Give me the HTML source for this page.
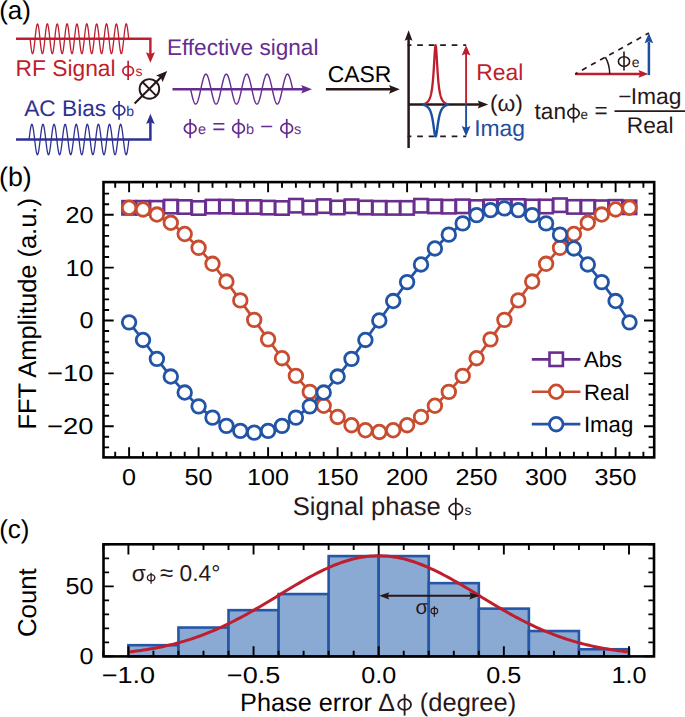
<!DOCTYPE html>
<html><head><meta charset="utf-8"><style>
html,body{margin:0;padding:0;background:#fff;}
svg{display:block;font-family:"Liberation Sans",sans-serif;text-rendering:geometricPrecision;}
</style></head><body>
<svg width="685" height="717" viewBox="0 0 685 717">
<text x="-0.8" y="18.6" font-size="26" fill="#000" >(a)</text>
<text x="-1" y="185.6" font-size="26.8" fill="#000" >(b)</text>
<text x="-0.8" y="537.9" font-size="26" fill="#000" >(c)</text>
<path d="M16,38.8 H150.4 V54" fill="none" stroke="#BE1E2D" stroke-width="2.4"/>
<polygon points="150.4,62.7 145.9,52.2 150.4,53.98 154.9,52.2" fill="#BE1E2D"/>
<polyline points="30.10,38.80 30.35,41.16 30.60,43.46 30.85,45.64 31.10,47.65 31.35,49.44 31.60,50.96 31.85,52.17 32.10,53.04 32.35,53.56 32.60,53.70 32.85,53.46 33.10,52.86 33.35,51.90 33.59,50.61 33.84,49.02 34.09,47.17 34.34,45.11 34.59,42.89 34.84,40.57 35.09,38.21 35.34,35.86 35.59,33.58 35.84,31.44 36.09,29.48 36.34,27.75 36.59,26.31 36.84,25.18 37.09,24.40 37.34,23.97 37.59,23.93 37.84,24.25 38.09,24.95 38.34,26.00 38.59,27.36 38.84,29.02 39.09,30.93 39.34,33.03 39.59,35.28 39.84,37.62 40.08,39.98 40.33,42.32 40.58,44.57 40.83,46.67 41.08,48.58 41.33,50.24 41.58,51.60 41.83,52.65 42.08,53.35 42.33,53.67 42.58,53.63 42.83,53.20 43.08,52.42 43.33,51.29 43.58,49.85 43.83,48.12 44.08,46.16 44.33,44.02 44.58,41.74 44.83,39.39 45.08,37.03 45.33,34.71 45.58,32.49 45.83,30.43 46.08,28.58 46.33,26.99 46.57,25.70 46.82,24.74 47.07,24.14 47.32,23.90 47.57,24.04 47.82,24.56 48.07,25.43 48.32,26.64 48.57,28.16 48.82,29.95 49.07,31.96 49.32,34.14 49.57,36.44 49.82,38.80 50.07,41.16 50.32,43.46 50.57,45.64 50.82,47.65 51.07,49.44 51.32,50.96 51.57,52.17 51.82,53.04 52.07,53.56 52.32,53.70 52.57,53.46 52.82,52.86 53.07,51.90 53.31,50.61 53.56,49.02 53.81,47.17 54.06,45.11 54.31,42.89 54.56,40.57 54.81,38.21 55.06,35.86 55.31,33.58 55.56,31.44 55.81,29.48 56.06,27.75 56.31,26.31 56.56,25.18 56.81,24.40 57.06,23.97 57.31,23.93 57.56,24.25 57.81,24.95 58.06,26.00 58.31,27.36 58.56,29.02 58.81,30.93 59.06,33.03 59.31,35.28 59.56,37.62 59.80,39.98 60.05,42.32 60.30,44.57 60.55,46.67 60.80,48.58 61.05,50.24 61.30,51.60 61.55,52.65 61.80,53.35 62.05,53.67 62.30,53.63 62.55,53.20 62.80,52.42 63.05,51.29 63.30,49.85 63.55,48.12 63.80,46.16 64.05,44.02 64.30,41.74 64.55,39.39 64.80,37.03 65.05,34.71 65.30,32.49 65.55,30.43 65.80,28.58 66.05,26.99 66.29,25.70 66.54,24.74 66.79,24.14 67.04,23.90 67.29,24.04 67.54,24.56 67.79,25.43 68.04,26.64 68.29,28.16 68.54,29.95 68.79,31.96 69.04,34.14 69.29,36.44 69.54,38.80 69.79,41.16 70.04,43.46 70.29,45.64 70.54,47.65 70.79,49.44 71.04,50.96 71.29,52.17 71.54,53.04 71.79,53.56 72.04,53.70 72.29,53.46 72.54,52.86 72.79,51.90 73.03,50.61 73.28,49.02 73.53,47.17 73.78,45.11 74.03,42.89 74.28,40.57 74.53,38.21 74.78,35.86 75.03,33.58 75.28,31.44 75.53,29.48 75.78,27.75 76.03,26.31 76.28,25.18 76.53,24.40 76.78,23.97 77.03,23.93 77.28,24.25 77.53,24.95 77.78,26.00 78.03,27.36 78.28,29.02 78.53,30.93 78.78,33.03 79.03,35.28 79.28,37.62 79.52,39.98 79.77,42.32 80.02,44.57 80.27,46.67 80.52,48.58 80.77,50.24 81.02,51.60 81.27,52.65 81.52,53.35 81.77,53.67 82.02,53.63 82.27,53.20 82.52,52.42 82.77,51.29 83.02,49.85 83.27,48.12 83.52,46.16 83.77,44.02 84.02,41.74 84.27,39.39 84.52,37.03 84.77,34.71 85.02,32.49 85.27,30.43 85.52,28.58 85.77,26.99 86.01,25.70 86.26,24.74 86.51,24.14 86.76,23.90 87.01,24.04 87.26,24.56 87.51,25.43 87.76,26.64 88.01,28.16 88.26,29.95 88.51,31.96 88.76,34.14 89.01,36.44 89.26,38.80 89.51,41.16 89.76,43.46 90.01,45.64 90.26,47.65 90.51,49.44 90.76,50.96 91.01,52.17 91.26,53.04 91.51,53.56 91.76,53.70 92.01,53.46 92.26,52.86 92.51,51.90 92.75,50.61 93.00,49.02 93.25,47.17 93.50,45.11 93.75,42.89 94.00,40.57 94.25,38.21 94.50,35.86 94.75,33.58 95.00,31.44 95.25,29.48 95.50,27.75 95.75,26.31 96.00,25.18 96.25,24.40 96.50,23.97 96.75,23.93 97.00,24.25 97.25,24.95 97.50,26.00 97.75,27.36 98.00,29.02 98.25,30.93 98.50,33.03 98.75,35.28 99.00,37.62 99.24,39.98 99.49,42.32 99.74,44.57 99.99,46.67 100.24,48.58 100.49,50.24 100.74,51.60 100.99,52.65 101.24,53.35 101.49,53.67 101.74,53.63 101.99,53.20 102.24,52.42 102.49,51.29 102.74,49.85 102.99,48.12 103.24,46.16 103.49,44.02 103.74,41.74 103.99,39.39 104.24,37.03 104.49,34.71 104.74,32.49 104.99,30.43 105.24,28.58 105.49,26.99 105.73,25.70 105.98,24.74 106.23,24.14 106.48,23.90 106.73,24.04 106.98,24.56 107.23,25.43 107.48,26.64 107.73,28.16 107.98,29.95 108.23,31.96 108.48,34.14 108.73,36.44 108.98,38.80 109.23,41.16 109.48,43.46 109.73,45.64 109.98,47.65 110.23,49.44 110.48,50.96 110.73,52.17 110.98,53.04 111.23,53.56 111.48,53.70 111.73,53.46 111.98,52.86 112.23,51.90 112.47,50.61 112.72,49.02 112.97,47.17 113.22,45.11 113.47,42.89 113.72,40.57 113.97,38.21 114.22,35.86 114.47,33.58 114.72,31.44 114.97,29.48 115.22,27.75 115.47,26.31 115.72,25.18 115.97,24.40 116.22,23.97 116.47,23.93 116.72,24.25 116.97,24.95 117.22,26.00 117.47,27.36 117.72,29.02 117.97,30.93 118.22,33.03 118.47,35.28 118.72,37.62 118.96,39.98 119.21,42.32 119.46,44.57 119.71,46.67 119.96,48.58 120.21,50.24 120.46,51.60 120.71,52.65 120.96,53.35 121.21,53.67 121.46,53.63 121.71,53.20 121.96,52.42 122.21,51.29 122.46,49.85 122.71,48.12 122.96,46.16 123.21,44.02 123.46,41.74 123.71,39.39 123.96,37.03 124.21,34.71 124.46,32.49 124.71,30.43 124.96,28.58 125.21,26.99 125.45,25.70 125.70,24.74 125.95,24.14 126.20,23.90 126.45,24.04 126.70,24.56 126.95,25.43 127.20,26.64 127.45,28.16 127.70,29.95 127.95,31.96 128.20,34.14 128.45,36.44 128.70,38.80" fill="none" stroke="#BE1E2D" stroke-width="1.3"/>
<text x="15.5" y="76" font-size="22.8" fill="#BE1E2D" >RF Signal</text>
<ellipse cx="128.15" cy="70.91" rx="5.30" ry="4.44" fill="none" stroke="#BE1E2D" stroke-width="1.70"/>
<line x1="128.15" y1="60.80" x2="128.15" y2="79.90" stroke="#BE1E2D" stroke-width="1.70"/>
<text x="135.6" y="76.2" font-size="14" fill="#BE1E2D" >s</text>
<path d="M16,139.5 H150.4 V122" fill="none" stroke="#2E3192" stroke-width="2.5"/>
<polygon points="150.4,113.7 154.7,123.9 150.4,122.17 146.1,123.9" fill="#2E3192"/>
<polyline points="29.10,139.50 29.35,137.36 29.60,135.26 29.85,133.25 30.10,131.36 30.35,129.63 30.60,128.10 30.85,126.80 31.10,125.75 31.35,124.97 31.60,124.49 31.84,124.30 32.09,124.42 32.34,124.84 32.59,125.55 32.84,126.54 33.09,127.79 33.34,129.27 33.59,130.95 33.84,132.81 34.09,134.80 34.34,136.88 34.59,139.02 34.84,141.16 35.09,143.28 35.34,145.31 35.59,147.23 35.84,149.00 36.09,150.58 36.34,151.93 36.59,153.04 36.83,153.88 37.08,154.43 37.33,154.68 37.58,154.63 37.83,154.28 38.08,153.64 38.33,152.71 38.58,151.52 38.83,150.08 39.08,148.44 39.33,146.62 39.58,144.66 39.83,142.59 40.08,140.46 40.33,138.32 40.58,136.19 40.83,134.14 41.08,132.19 41.33,130.38 41.58,128.76 41.82,127.35 42.07,126.19 42.32,125.29 42.57,124.67 42.82,124.35 43.07,124.33 43.32,124.61 43.57,125.19 43.82,126.06 44.07,127.20 44.32,128.58 44.57,130.17 44.82,131.96 45.07,133.89 45.32,135.94 45.57,138.06 45.82,140.20 46.07,142.33 46.32,144.41 46.57,146.39 46.81,148.23 47.06,149.89 47.31,151.35 47.56,152.58 47.81,153.54 48.06,154.22 48.31,154.61 48.56,154.69 48.81,154.48 49.06,153.96 49.31,153.16 49.56,152.08 49.81,150.75 50.06,149.20 50.31,147.46 50.56,145.55 50.81,143.53 51.06,141.42 51.31,139.28 51.56,137.14 51.80,135.05 52.05,133.05 52.30,131.17 52.55,129.46 52.80,127.96 53.05,126.68 53.30,125.66 53.55,124.91 53.80,124.45 54.05,124.30 54.30,124.45 54.55,124.90 54.80,125.64 55.05,126.65 55.30,127.93 55.55,129.43 55.80,131.14 56.05,133.01 56.30,135.01 56.55,137.10 56.79,139.24 57.04,141.38 57.29,143.49 57.54,145.51 57.79,147.42 58.04,149.17 58.29,150.73 58.54,152.06 58.79,153.14 59.04,153.95 59.29,154.47 59.54,154.69 59.79,154.61 60.04,154.23 60.29,153.55 60.54,152.60 60.79,151.38 61.04,149.93 61.29,148.26 61.54,146.43 61.78,144.45 62.03,142.38 62.28,140.24 62.53,138.10 62.78,135.98 63.03,133.93 63.28,131.99 63.53,130.21 63.78,128.61 64.03,127.22 64.28,126.08 64.53,125.21 64.78,124.62 65.03,124.33 65.28,124.34 65.53,124.66 65.78,125.27 66.03,126.16 66.28,127.33 66.53,128.73 66.77,130.35 67.02,132.15 67.27,134.10 67.52,136.15 67.77,138.27 68.02,140.42 68.27,142.55 68.52,144.62 68.77,146.58 69.02,148.41 69.27,150.05 69.52,151.49 69.77,152.69 70.02,153.62 70.27,154.27 70.52,154.63 70.77,154.68 71.02,154.44 71.27,153.89 71.52,153.06 71.76,151.96 72.01,150.61 72.26,149.03 72.51,147.27 72.76,145.35 73.01,143.32 73.26,141.21 73.51,139.06 73.76,136.92 74.01,134.84 74.26,132.85 74.51,130.99 74.76,129.30 75.01,127.81 75.26,126.56 75.51,125.57 75.76,124.85 76.01,124.42 76.26,124.30 76.51,124.48 76.75,124.96 77.00,125.73 77.25,126.77 77.50,128.07 77.75,129.60 78.00,131.32 78.25,133.21 78.50,135.22 78.75,137.32 79.00,139.46 79.25,141.60 79.50,143.70 79.75,145.72 80.00,147.61 80.25,149.34 80.50,150.87 80.75,152.18 81.00,153.23 81.25,154.01 81.50,154.51 81.74,154.70 81.99,154.59 82.24,154.17 82.49,153.47 82.74,152.48 82.99,151.24 83.24,149.76 83.49,148.08 83.74,146.23 83.99,144.24 84.24,142.16 84.49,140.03 84.74,137.88 84.99,135.77 85.24,133.73 85.49,131.80 85.74,130.03 85.99,128.45 86.24,127.09 86.49,125.98 86.73,125.14 86.98,124.58 87.23,124.32 87.48,124.36 87.73,124.71 87.98,125.35 88.23,126.27 88.48,127.46 88.73,128.89 88.98,130.52 89.23,132.34 89.48,134.30 89.73,136.37 89.98,138.49 90.23,140.64 90.48,142.76 90.73,144.82 90.98,146.78 91.23,148.58 91.48,150.21 91.72,151.62 91.97,152.79 92.22,153.70 92.47,154.32 92.72,154.65 92.97,154.67 93.22,154.40 93.47,153.82 93.72,152.96 93.97,151.83 94.22,150.45 94.47,148.86 94.72,147.08 94.97,145.15 95.22,143.10 95.47,140.99 95.72,138.84 95.97,136.71 96.22,134.63 96.47,132.65 96.71,130.81 96.96,129.14 97.21,127.67 97.46,126.45 97.71,125.48 97.96,124.79 98.21,124.40 98.46,124.31 98.71,124.52 98.96,125.03 99.21,125.82 99.46,126.89 99.71,128.22 99.96,129.76 100.21,131.51 100.46,133.41 100.71,135.43 100.96,137.53 101.21,139.68 101.46,141.82 101.70,143.91 101.95,145.91 102.20,147.79 102.45,149.50 102.70,151.02 102.95,152.30 103.20,153.33 103.45,154.08 103.70,154.54 103.95,154.70 104.20,154.56 104.45,154.11 104.70,153.38 104.95,152.37 105.20,151.10 105.45,149.60 105.70,147.90 105.95,146.03 106.20,144.03 106.45,141.94 106.69,139.81 106.94,137.66 107.19,135.55 107.44,133.53 107.69,131.62 107.94,129.86 108.19,128.30 108.44,126.97 108.69,125.88 108.94,125.07 109.19,124.54 109.44,124.31 109.69,124.38 109.94,124.76 110.19,125.43 110.44,126.38 110.69,127.59 110.94,129.04 111.19,130.70 111.44,132.54 111.68,134.51 111.93,136.58 112.18,138.71 112.43,140.86 112.68,142.98 112.93,145.03 113.18,146.97 113.43,148.76 113.68,150.36 113.93,151.75 114.18,152.90 114.43,153.78 114.68,154.37 114.93,154.67 115.18,154.66 115.43,154.35 115.68,153.74 115.93,152.86 116.18,151.70 116.43,150.30 116.67,148.69 116.92,146.89 117.17,144.94 117.42,142.89 117.67,140.77 117.92,138.62 118.17,136.49 118.42,134.42 118.67,132.46 118.92,130.63 119.17,128.98 119.42,127.54 119.67,126.34 119.92,125.40 120.17,124.74 120.42,124.38 120.67,124.31 120.92,124.55 121.17,125.09 121.42,125.92 121.66,127.02 121.91,128.37 122.16,129.93 122.41,131.69 122.66,133.61 122.91,135.64 123.16,137.75 123.41,139.90 123.66,142.03 123.91,144.12 124.16,146.11 124.41,147.98 124.66,149.67 124.91,151.16 125.16,152.42 125.41,153.42 125.66,154.14 125.91,154.57 126.16,154.70 126.41,154.53 126.65,154.05 126.90,153.29 127.15,152.25 127.40,150.96 127.65,149.44 127.90,147.72 128.15,145.83 128.40,143.82 128.65,141.73 128.90,139.59" fill="none" stroke="#2E3192" stroke-width="1.3"/>
<text x="24.2" y="115.8" font-size="22.7" fill="#2E3192" >AC Bias</text>
<ellipse cx="119.05" cy="110.28" rx="5.80" ry="4.87" fill="none" stroke="#2E3192" stroke-width="1.70"/>
<line x1="119.05" y1="101.10" x2="119.05" y2="119.80" stroke="#2E3192" stroke-width="1.70"/>
<text x="126.2" y="116" font-size="14" fill="#2E3192" >b</text>
<circle cx="149.4" cy="88.9" r="9.8" fill="none" stroke="#281819" stroke-width="1.9"/>
<line x1="142.5" y1="82" x2="156.3" y2="95.8" stroke="#281819" stroke-width="1.9" />
<line x1="134.6" y1="103.6" x2="162" y2="76.2" stroke="#281819" stroke-width="2.1" />
<polygon points="167.2,71 162.67,82.03 160.74,77.46 156.17,75.53" fill="#281819"/>
<text x="166.9" y="54.8" font-size="22.6" fill="#662D91" >Effective signal</text>
<line x1="172.5" y1="89.2" x2="303" y2="89.2" stroke="#662D91" stroke-width="2.5" />
<polygon points="312,89.25 301.2,93.55 303.04,89.25 301.2,84.95" fill="#662D91"/>
<polyline points="190.60,89.10 190.85,90.25 191.10,91.40 191.35,92.53 191.60,93.64 191.85,94.73 192.10,95.78 192.35,96.79 192.60,97.76 192.85,98.67 193.10,99.53 193.35,100.33 193.60,101.06 193.85,101.72 194.09,102.30 194.34,102.81 194.59,103.24 194.84,103.58 195.09,103.84 195.34,104.01 195.59,104.09 195.84,104.09 196.09,103.99 196.34,103.81 196.59,103.54 196.84,103.18 197.09,102.75 197.34,102.23 197.59,101.63 197.84,100.96 198.09,100.22 198.34,99.41 198.59,98.55 198.84,97.62 199.09,96.65 199.34,95.63 199.59,94.58 199.84,93.49 200.09,92.37 200.34,91.24 200.59,90.09 200.83,88.94 201.08,87.79 201.33,86.64 201.58,85.51 201.83,84.41 202.08,83.33 202.33,82.28 202.58,81.27 202.83,80.31 203.08,79.41 203.33,78.55 203.58,77.77 203.83,77.05 204.08,76.40 204.33,75.82 204.58,75.32 204.83,74.91 205.08,74.58 205.33,74.33 205.58,74.17 205.83,74.10 206.08,74.12 206.33,74.23 206.58,74.42 206.83,74.71 207.08,75.07 207.33,75.52 207.58,76.05 207.82,76.66 208.07,77.34 208.32,78.09 208.57,78.90 208.82,79.78 209.07,80.71 209.32,81.69 209.57,82.71 209.82,83.78 210.07,84.87 210.32,85.99 210.57,87.12 210.82,88.27 211.07,89.42 211.32,90.57 211.57,91.72 211.82,92.84 212.07,93.95 212.32,95.02 212.57,96.06 212.82,97.06 213.07,98.02 213.32,98.92 213.57,99.76 213.82,100.54 214.07,101.25 214.32,101.89 214.56,102.45 214.81,102.94 215.06,103.34 215.31,103.66 215.56,103.90 215.81,104.04 216.06,104.10 216.31,104.07 216.56,103.95 216.81,103.74 217.06,103.45 217.31,103.07 217.56,102.61 217.81,102.07 218.06,101.45 218.31,100.76 218.56,100.00 218.81,99.18 219.06,98.29 219.31,97.36 219.56,96.37 219.81,95.34 220.06,94.27 220.31,93.18 220.56,92.06 220.81,90.92 221.06,89.77 221.30,88.62 221.55,87.47 221.80,86.32 222.05,85.20 222.30,84.10 222.55,83.03 222.80,81.99 223.05,81.00 223.30,80.05 223.55,79.16 223.80,78.33 224.05,77.56 224.30,76.86 224.55,76.23 224.80,75.67 225.05,75.20 225.30,74.81 225.55,74.50 225.80,74.28 226.05,74.15 226.30,74.10 226.55,74.14 226.80,74.28 227.05,74.49 227.30,74.80 227.55,75.19 227.80,75.66 228.04,76.21 228.29,76.84 228.54,77.54 228.79,78.31 229.04,79.14 229.29,80.04 229.54,80.98 229.79,81.97 230.04,83.01 230.29,84.08 230.54,85.18 230.79,86.30 231.04,87.44 231.29,88.59 231.54,89.75 231.79,90.90 232.04,92.03 232.29,93.15 232.54,94.25 232.79,95.32 233.04,96.35 233.29,97.34 233.54,98.28 233.79,99.16 234.04,99.98 234.29,100.75 234.54,101.44 234.79,102.06 235.03,102.60 235.28,103.06 235.53,103.44 235.78,103.74 236.03,103.95 236.28,104.07 236.53,104.10 236.78,104.04 237.03,103.90 237.28,103.67 237.53,103.35 237.78,102.95 238.03,102.46 238.28,101.90 238.53,101.26 238.78,100.55 239.03,99.78 239.28,98.93 239.53,98.04 239.78,97.08 240.03,96.08 240.28,95.04 240.53,93.97 240.78,92.86 241.03,91.74 241.28,90.60 241.53,89.45 241.77,88.29 242.02,87.14 242.27,86.01 242.52,84.89 242.77,83.80 243.02,82.73 243.27,81.71 243.52,80.73 243.77,79.80 244.02,78.92 244.27,78.11 244.52,77.35 244.77,76.67 245.02,76.06 245.27,75.53 245.52,75.08 245.77,74.71 246.02,74.43 246.27,74.23 246.52,74.12 246.77,74.10 247.02,74.17 247.27,74.33 247.52,74.57 247.77,74.90 248.02,75.31 248.27,75.81 248.51,76.38 248.76,77.03 249.01,77.75 249.26,78.54 249.51,79.39 249.76,80.29 250.01,81.25 250.26,82.26 250.51,83.30 250.76,84.38 251.01,85.49 251.26,86.62 251.51,87.76 251.76,88.92 252.01,90.07 252.26,91.22 252.51,92.35 252.76,93.47 253.01,94.55 253.26,95.61 253.51,96.63 253.76,97.60 254.01,98.53 254.26,99.40 254.51,100.20 254.76,100.95 255.01,101.62 255.26,102.22 255.50,102.74 255.75,103.18 256.00,103.53 256.25,103.80 256.50,103.99 256.75,104.08 257.00,104.09 257.25,104.01 257.50,103.84 257.75,103.59 258.00,103.25 258.25,102.82 258.50,102.31 258.75,101.73 259.00,101.07 259.25,100.34 259.50,99.55 259.75,98.69 260.00,97.77 260.25,96.81 260.50,95.80 260.75,94.75 261.00,93.66 261.25,92.55 261.50,91.42 261.75,90.27 262.00,89.12 262.24,87.97 262.49,86.82 262.74,85.69 262.99,84.58 263.24,83.50 263.49,82.44 263.74,81.43 263.99,80.46 264.24,79.55 264.49,78.69 264.74,77.89 264.99,77.16 265.24,76.49 265.49,75.91 265.74,75.40 265.99,74.97 266.24,74.62 266.49,74.37 266.74,74.19 266.99,74.11 267.24,74.11 267.49,74.21 267.74,74.39 267.99,74.66 268.24,75.01 268.49,75.45 268.74,75.96 268.98,76.56 269.23,77.23 269.48,77.97 269.73,78.77 269.98,79.64 270.23,80.56 270.48,81.53 270.73,82.55 270.98,83.60 271.23,84.69 271.48,85.81 271.73,86.94 271.98,88.09 272.23,89.24 272.48,90.39 272.73,91.53 272.98,92.66 273.23,93.77 273.48,94.85 273.73,95.90 273.98,96.91 274.23,97.87 274.48,98.78 274.73,99.63 274.98,100.42 275.23,101.14 275.48,101.79 275.72,102.37 275.97,102.87 276.22,103.28 276.47,103.62 276.72,103.86 276.97,104.02 277.22,104.10 277.47,104.08 277.72,103.97 277.97,103.78 278.22,103.50 278.47,103.14 278.72,102.69 278.97,102.16 279.22,101.55 279.47,100.87 279.72,100.13 279.97,99.31 280.22,98.44 280.47,97.51 280.72,96.53 280.97,95.51 281.22,94.45 281.47,93.35 281.72,92.24 281.97,91.10 282.22,89.95 282.47,88.80 282.71,87.65 282.96,86.51 283.21,85.38 283.46,84.27 283.71,83.20 283.96,82.16 284.21,81.15 284.46,80.20 284.71,79.30 284.96,78.46 285.21,77.68 285.46,76.96 285.71,76.32 285.96,75.76 286.21,75.27 286.46,74.86 286.71,74.54 286.96,74.31 287.21,74.16 287.46,74.10 287.71,74.13 287.96,74.25 288.21,74.45 288.46,74.75 288.71,75.12 288.96,75.58 289.21,76.12 289.45,76.74 289.70,77.43 289.95,78.18 290.20,79.01 290.45,79.89 290.70,80.83 290.95,81.81 291.20,82.84 291.45,83.91 291.70,85.00 291.95,86.12 292.20,87.26 292.45,88.41 292.70,89.56" fill="none" stroke="#662D91" stroke-width="1.4"/>
<ellipse cx="190.20" cy="128.44" rx="5.83" ry="4.89" fill="none" stroke="#662D91" stroke-width="1.75"/>
<line x1="190.20" y1="118.90" x2="190.20" y2="138.10" stroke="#662D91" stroke-width="1.75"/>
<text x="198" y="134.2" font-size="14.5" fill="#662D91" >e</text>
<text x="212.3" y="134" font-size="22.5" fill="#662D91" >=</text>
<ellipse cx="238.55" cy="128.39" rx="5.88" ry="4.93" fill="none" stroke="#662D91" stroke-width="1.75"/>
<line x1="238.55" y1="118.90" x2="238.55" y2="138.10" stroke="#662D91" stroke-width="1.75"/>
<text x="246.1" y="134.2" font-size="14.5" fill="#662D91" >b</text>
<text x="259.9" y="134" font-size="22.5" fill="#662D91" >−</text>
<ellipse cx="286.75" cy="128.39" rx="5.88" ry="4.93" fill="none" stroke="#662D91" stroke-width="1.75"/>
<line x1="286.75" y1="118.90" x2="286.75" y2="138.10" stroke="#662D91" stroke-width="1.75"/>
<text x="293.9" y="134.2" font-size="14.5" fill="#662D91" >s</text>
<text x="327.8" y="81.7" font-size="22.9" fill="#000" >CASR</text>
<line x1="325.9" y1="89.3" x2="392" y2="89.3" stroke="#281819" stroke-width="2.6" />
<polygon points="399.8,89.3 389,93.7 390.84,89.3 389,84.9" fill="#281819"/>
<line x1="408.6" y1="148" x2="408.6" y2="38" stroke="#281819" stroke-width="2.5" />
<polygon points="408.6,30.2 412.5,40.7 408.6,38.91 404.7,40.7" fill="#281819"/>
<line x1="408.6" y1="104.5" x2="480" y2="104.5" stroke="#281819" stroke-width="2.4" />
<polygon points="488.2,104.5 477.7,108.4 479.49,104.5 477.7,100.6" fill="#281819"/>
<line x1="407.6" y1="45.2" x2="466.2" y2="45.2" stroke="#281819" stroke-width="1.8" stroke-dasharray="5.7 5.8" stroke-dashoffset="1.9"/>
<line x1="407.6" y1="136.4" x2="466.2" y2="136.4" stroke="#281819" stroke-width="1.8" stroke-dasharray="5.7 5.8" stroke-dashoffset="1.9"/>
<polyline points="423.10,104.50 423.31,104.43 423.52,104.36 423.73,104.29 423.93,104.21 424.14,104.13 424.35,104.05 424.56,103.96 424.77,103.86 424.98,103.76 425.18,103.66 425.39,103.55 425.60,103.43 425.81,103.30 426.02,103.17 426.23,103.03 426.43,102.88 426.64,102.72 426.85,102.55 427.06,102.37 427.27,102.17 427.48,101.96 427.68,101.74 427.89,101.50 428.10,101.24 428.31,100.97 428.52,100.67 428.73,100.34 428.93,99.99 429.14,99.62 429.35,99.20 429.56,98.76 429.77,98.27 429.98,97.74 430.18,97.15 430.39,96.52 430.60,95.82 430.81,95.04 431.02,94.19 431.23,93.25 431.43,92.21 431.64,91.06 431.85,89.77 432.06,88.35 432.27,86.76 432.48,85.00 432.68,83.04 432.89,80.86 433.10,78.45 433.31,75.79 433.52,72.88 433.73,69.74 433.93,66.37 434.14,62.85 434.35,59.26 434.56,55.72 434.77,52.40 434.98,49.51 435.18,47.24 435.39,45.80 435.60,45.30 435.81,45.80 436.02,47.24 436.23,49.51 436.43,52.40 436.64,55.72 436.85,59.26 437.06,62.85 437.27,66.37 437.48,69.74 437.68,72.88 437.89,75.79 438.10,78.45 438.31,80.86 438.52,83.04 438.73,85.00 438.93,86.76 439.14,88.35 439.35,89.77 439.56,91.06 439.77,92.21 439.98,93.25 440.18,94.19 440.39,95.04 440.60,95.82 440.81,96.52 441.02,97.15 441.23,97.74 441.43,98.27 441.64,98.76 441.85,99.20 442.06,99.62 442.27,99.99 442.48,100.34 442.68,100.67 442.89,100.97 443.10,101.24 443.31,101.50 443.52,101.74 443.73,101.96 443.93,102.17 444.14,102.37 444.35,102.55 444.56,102.72 444.77,102.88 444.98,103.03 445.18,103.17 445.39,103.30 445.60,103.43 445.81,103.55 446.02,103.66 446.23,103.76 446.43,103.86 446.64,103.96 446.85,104.05 447.06,104.13 447.27,104.21 447.48,104.29 447.68,104.36 447.89,104.43 448.10,104.50" fill="none" stroke="#BE1E2D" stroke-width="2.3" stroke-linejoin="round"/>
<polyline points="422.40,104.50 422.62,104.55 422.84,104.61 423.06,104.67 423.28,104.73 423.50,104.80 423.72,104.86 423.94,104.94 424.16,105.01 424.38,105.09 424.60,105.17 424.82,105.26 425.04,105.36 425.26,105.46 425.48,105.56 425.70,105.67 425.92,105.79 426.14,105.92 426.36,106.05 426.58,106.19 426.80,106.35 427.02,106.51 427.24,106.68 427.46,106.86 427.68,107.06 427.90,107.27 428.12,107.50 428.34,107.75 428.56,108.01 428.78,108.29 429.00,108.60 429.22,108.93 429.44,109.28 429.66,109.67 429.88,110.09 430.10,110.54 430.32,111.04 430.54,111.58 430.76,112.16 430.98,112.80 431.20,113.50 431.42,114.26 431.64,115.09 431.86,115.99 432.08,116.97 432.30,118.03 432.52,119.18 432.74,120.43 432.96,121.76 433.18,123.18 433.40,124.67 433.62,126.22 433.84,127.81 434.06,129.40 434.28,130.96 434.50,132.42 434.72,133.74 434.94,134.85 435.16,135.69 435.38,136.22 435.60,136.40 435.82,136.22 436.04,135.69 436.26,134.85 436.48,133.74 436.70,132.42 436.92,130.96 437.14,129.40 437.36,127.81 437.58,126.22 437.80,124.67 438.02,123.18 438.24,121.76 438.46,120.43 438.68,119.18 438.90,118.03 439.12,116.97 439.34,115.99 439.56,115.09 439.78,114.26 440.00,113.50 440.22,112.80 440.44,112.16 440.66,111.58 440.88,111.04 441.10,110.54 441.32,110.09 441.54,109.67 441.76,109.28 441.98,108.93 442.20,108.60 442.42,108.29 442.64,108.01 442.86,107.75 443.08,107.50 443.30,107.27 443.52,107.06 443.74,106.86 443.96,106.68 444.18,106.51 444.40,106.35 444.62,106.19 444.84,106.05 445.06,105.92 445.28,105.79 445.50,105.67 445.72,105.56 445.94,105.46 446.16,105.36 446.38,105.26 446.60,105.17 446.82,105.09 447.04,105.01 447.26,104.94 447.48,104.86 447.70,104.80 447.92,104.73 448.14,104.67 448.36,104.61 448.58,104.55 448.80,104.50" fill="none" stroke="#1D4FA0" stroke-width="2.4" stroke-linejoin="round"/>
<line x1="466.1" y1="104.5" x2="466.1" y2="53" stroke="#BE1E2D" stroke-width="1.9" />
<polygon points="466.1,45.3 470.5,55.6 466.1,53.85 461.7,55.6" fill="#BE1E2D"/>
<line x1="466.1" y1="104.5" x2="466.1" y2="128" stroke="#1D4FA0" stroke-width="1.9" />
<polygon points="466.1,136.2 461.7,125.9 466.1,127.65 470.5,125.9" fill="#1D4FA0"/>
<text x="476.3" y="79.9" font-size="22.9" fill="#BE1E2D" >Real</text>
<text x="474.2" y="136.2" font-size="22.9" fill="#1D4FA0" >Imag</text>
<text x="489.9" y="110.6" font-size="22.8" fill="#281819" >(ω)</text>
<line x1="575.2" y1="73.9" x2="640" y2="73.9" stroke="#BE1E2D" stroke-width="2.5" />
<polygon points="648.4,73.9 638.4,77.8 640.1,73.9 638.4,70" fill="#BE1E2D"/>
<line x1="648.9" y1="75.1" x2="648.9" y2="42" stroke="#1D4FA0" stroke-width="2.5" />
<polygon points="648.9,33 653.2,43.3 648.9,41.55 644.6,43.3" fill="#1D4FA0"/>
<line x1="575.2" y1="73.9" x2="648.9" y2="33" stroke="#281819" stroke-width="1.7" stroke-dasharray="5.3 5.1" stroke-dashoffset="2.7"/>
<path d="M609.7,73.9 A34.5,34.5 0 0 0 605.37,57.16" fill="none" stroke="#281819" stroke-width="1.5"/>
<ellipse cx="624.00" cy="61.50" rx="5.60" ry="4.70" fill="none" stroke="#281819" stroke-width="1.60"/>
<line x1="624.00" y1="51.40" x2="624.00" y2="70.40" stroke="#281819" stroke-width="1.60"/>
<text x="631.8" y="66.8" font-size="14" fill="#281819" >e</text>
<text x="534.6" y="118.8" font-size="22.6" fill="#281819" >tan</text>
<ellipse cx="573.55" cy="113.17" rx="5.70" ry="4.78" fill="none" stroke="#281819" stroke-width="1.70"/>
<line x1="573.55" y1="103.70" x2="573.55" y2="122.60" stroke="#281819" stroke-width="1.70"/>
<text x="580.6" y="118.8" font-size="13.5" fill="#281819" >e</text>
<text x="594.5" y="117.8" font-size="22.5" fill="#281819" >=</text>
<line x1="614.5" y1="111.1" x2="686" y2="111.1" stroke="#281819" stroke-width="1.8" />
<text x="618.2" y="103.6" font-size="22.6" fill="#281819" >−</text>
<text x="630.7" y="103.6" font-size="22.85" fill="#281819" >Imag</text>
<text x="626.8" y="133.2" font-size="22.7" fill="#281819" >Real</text>
<polyline points="129.10,207.80 143.00,207.80 156.90,207.80 170.80,206.60 184.70,207.00 198.60,208.00 212.50,206.60 226.40,206.60 240.30,207.00 254.20,207.00 268.10,207.60 282.00,208.00 295.90,205.70 309.80,207.50 323.70,206.10 337.60,207.50 351.50,206.20 365.40,207.50 379.30,207.80 393.20,207.90 407.10,207.90 421.00,205.70 434.90,206.40 448.80,206.70 462.70,206.30 476.60,207.00 490.50,206.50 504.40,206.00 518.30,206.00 532.20,206.50 546.10,206.50 560.00,205.20 573.90,206.90 587.80,206.90 601.70,207.20 615.60,206.80 629.50,207.30" fill="none" stroke="#6A2F8E" stroke-width="2.7"/>
<rect x="122.40" y="201.10" width="13.4" height="13.4" fill="#fff" stroke="#6A2F8E" stroke-width="2.6"/>
<rect x="136.30" y="201.10" width="13.4" height="13.4" fill="#fff" stroke="#6A2F8E" stroke-width="2.6"/>
<rect x="150.20" y="201.10" width="13.4" height="13.4" fill="#fff" stroke="#6A2F8E" stroke-width="2.6"/>
<rect x="164.10" y="199.90" width="13.4" height="13.4" fill="#fff" stroke="#6A2F8E" stroke-width="2.6"/>
<rect x="178.00" y="200.30" width="13.4" height="13.4" fill="#fff" stroke="#6A2F8E" stroke-width="2.6"/>
<rect x="191.90" y="201.30" width="13.4" height="13.4" fill="#fff" stroke="#6A2F8E" stroke-width="2.6"/>
<rect x="205.80" y="199.90" width="13.4" height="13.4" fill="#fff" stroke="#6A2F8E" stroke-width="2.6"/>
<rect x="219.70" y="199.90" width="13.4" height="13.4" fill="#fff" stroke="#6A2F8E" stroke-width="2.6"/>
<rect x="233.60" y="200.30" width="13.4" height="13.4" fill="#fff" stroke="#6A2F8E" stroke-width="2.6"/>
<rect x="247.50" y="200.30" width="13.4" height="13.4" fill="#fff" stroke="#6A2F8E" stroke-width="2.6"/>
<rect x="261.40" y="200.90" width="13.4" height="13.4" fill="#fff" stroke="#6A2F8E" stroke-width="2.6"/>
<rect x="275.30" y="201.30" width="13.4" height="13.4" fill="#fff" stroke="#6A2F8E" stroke-width="2.6"/>
<rect x="289.20" y="199.00" width="13.4" height="13.4" fill="#fff" stroke="#6A2F8E" stroke-width="2.6"/>
<rect x="303.10" y="200.80" width="13.4" height="13.4" fill="#fff" stroke="#6A2F8E" stroke-width="2.6"/>
<rect x="317.00" y="199.40" width="13.4" height="13.4" fill="#fff" stroke="#6A2F8E" stroke-width="2.6"/>
<rect x="330.90" y="200.80" width="13.4" height="13.4" fill="#fff" stroke="#6A2F8E" stroke-width="2.6"/>
<rect x="344.80" y="199.50" width="13.4" height="13.4" fill="#fff" stroke="#6A2F8E" stroke-width="2.6"/>
<rect x="358.70" y="200.80" width="13.4" height="13.4" fill="#fff" stroke="#6A2F8E" stroke-width="2.6"/>
<rect x="372.60" y="201.10" width="13.4" height="13.4" fill="#fff" stroke="#6A2F8E" stroke-width="2.6"/>
<rect x="386.50" y="201.20" width="13.4" height="13.4" fill="#fff" stroke="#6A2F8E" stroke-width="2.6"/>
<rect x="400.40" y="201.20" width="13.4" height="13.4" fill="#fff" stroke="#6A2F8E" stroke-width="2.6"/>
<rect x="414.30" y="199.00" width="13.4" height="13.4" fill="#fff" stroke="#6A2F8E" stroke-width="2.6"/>
<rect x="428.20" y="199.70" width="13.4" height="13.4" fill="#fff" stroke="#6A2F8E" stroke-width="2.6"/>
<rect x="442.10" y="200.00" width="13.4" height="13.4" fill="#fff" stroke="#6A2F8E" stroke-width="2.6"/>
<rect x="456.00" y="199.60" width="13.4" height="13.4" fill="#fff" stroke="#6A2F8E" stroke-width="2.6"/>
<rect x="469.90" y="200.30" width="13.4" height="13.4" fill="#fff" stroke="#6A2F8E" stroke-width="2.6"/>
<rect x="483.80" y="199.80" width="13.4" height="13.4" fill="#fff" stroke="#6A2F8E" stroke-width="2.6"/>
<rect x="497.70" y="199.30" width="13.4" height="13.4" fill="#fff" stroke="#6A2F8E" stroke-width="2.6"/>
<rect x="511.60" y="199.30" width="13.4" height="13.4" fill="#fff" stroke="#6A2F8E" stroke-width="2.6"/>
<rect x="525.50" y="199.80" width="13.4" height="13.4" fill="#fff" stroke="#6A2F8E" stroke-width="2.6"/>
<rect x="539.40" y="199.80" width="13.4" height="13.4" fill="#fff" stroke="#6A2F8E" stroke-width="2.6"/>
<rect x="553.30" y="198.50" width="13.4" height="13.4" fill="#fff" stroke="#6A2F8E" stroke-width="2.6"/>
<rect x="567.20" y="200.20" width="13.4" height="13.4" fill="#fff" stroke="#6A2F8E" stroke-width="2.6"/>
<rect x="581.10" y="200.20" width="13.4" height="13.4" fill="#fff" stroke="#6A2F8E" stroke-width="2.6"/>
<rect x="595.00" y="200.50" width="13.4" height="13.4" fill="#fff" stroke="#6A2F8E" stroke-width="2.6"/>
<rect x="608.90" y="200.10" width="13.4" height="13.4" fill="#fff" stroke="#6A2F8E" stroke-width="2.6"/>
<rect x="622.80" y="200.60" width="13.4" height="13.4" fill="#fff" stroke="#6A2F8E" stroke-width="2.6"/>
<polyline points="129.10,207.77 143.00,209.47 156.90,214.53 170.80,222.79 184.70,234.00 198.60,247.81 212.50,263.82 226.40,281.53 240.30,300.40 254.20,319.87 268.10,339.33 282.00,358.20 295.90,375.91 309.80,391.92 323.70,405.74 337.60,416.94 351.50,425.20 365.40,430.26 379.30,431.96 393.20,430.26 407.10,425.20 421.00,416.94 434.90,405.74 448.80,391.92 462.70,375.91 476.60,358.20 490.50,339.33 504.40,319.87 518.30,300.40 532.20,281.53 546.10,263.82 560.00,247.81 573.90,234.00 587.80,222.79 601.70,214.53 615.60,209.47 629.50,207.77" fill="none" stroke="#C84D2F" stroke-width="2.7"/>
<circle cx="129.10" cy="207.77" r="6.8" fill="#fff" stroke="#C84D2F" stroke-width="2.8"/>
<circle cx="143.00" cy="209.47" r="6.8" fill="#fff" stroke="#C84D2F" stroke-width="2.8"/>
<circle cx="156.90" cy="214.53" r="6.8" fill="#fff" stroke="#C84D2F" stroke-width="2.8"/>
<circle cx="170.80" cy="222.79" r="6.8" fill="#fff" stroke="#C84D2F" stroke-width="2.8"/>
<circle cx="184.70" cy="234.00" r="6.8" fill="#fff" stroke="#C84D2F" stroke-width="2.8"/>
<circle cx="198.60" cy="247.81" r="6.8" fill="#fff" stroke="#C84D2F" stroke-width="2.8"/>
<circle cx="212.50" cy="263.82" r="6.8" fill="#fff" stroke="#C84D2F" stroke-width="2.8"/>
<circle cx="226.40" cy="281.53" r="6.8" fill="#fff" stroke="#C84D2F" stroke-width="2.8"/>
<circle cx="240.30" cy="300.40" r="6.8" fill="#fff" stroke="#C84D2F" stroke-width="2.8"/>
<circle cx="254.20" cy="319.87" r="6.8" fill="#fff" stroke="#C84D2F" stroke-width="2.8"/>
<circle cx="268.10" cy="339.33" r="6.8" fill="#fff" stroke="#C84D2F" stroke-width="2.8"/>
<circle cx="282.00" cy="358.20" r="6.8" fill="#fff" stroke="#C84D2F" stroke-width="2.8"/>
<circle cx="295.90" cy="375.91" r="6.8" fill="#fff" stroke="#C84D2F" stroke-width="2.8"/>
<circle cx="309.80" cy="391.92" r="6.8" fill="#fff" stroke="#C84D2F" stroke-width="2.8"/>
<circle cx="323.70" cy="405.74" r="6.8" fill="#fff" stroke="#C84D2F" stroke-width="2.8"/>
<circle cx="337.60" cy="416.94" r="6.8" fill="#fff" stroke="#C84D2F" stroke-width="2.8"/>
<circle cx="351.50" cy="425.20" r="6.8" fill="#fff" stroke="#C84D2F" stroke-width="2.8"/>
<circle cx="365.40" cy="430.26" r="6.8" fill="#fff" stroke="#C84D2F" stroke-width="2.8"/>
<circle cx="379.30" cy="431.96" r="6.8" fill="#fff" stroke="#C84D2F" stroke-width="2.8"/>
<circle cx="393.20" cy="430.26" r="6.8" fill="#fff" stroke="#C84D2F" stroke-width="2.8"/>
<circle cx="407.10" cy="425.20" r="6.8" fill="#fff" stroke="#C84D2F" stroke-width="2.8"/>
<circle cx="421.00" cy="416.94" r="6.8" fill="#fff" stroke="#C84D2F" stroke-width="2.8"/>
<circle cx="434.90" cy="405.74" r="6.8" fill="#fff" stroke="#C84D2F" stroke-width="2.8"/>
<circle cx="448.80" cy="391.92" r="6.8" fill="#fff" stroke="#C84D2F" stroke-width="2.8"/>
<circle cx="462.70" cy="375.91" r="6.8" fill="#fff" stroke="#C84D2F" stroke-width="2.8"/>
<circle cx="476.60" cy="358.20" r="6.8" fill="#fff" stroke="#C84D2F" stroke-width="2.8"/>
<circle cx="490.50" cy="339.33" r="6.8" fill="#fff" stroke="#C84D2F" stroke-width="2.8"/>
<circle cx="504.40" cy="319.87" r="6.8" fill="#fff" stroke="#C84D2F" stroke-width="2.8"/>
<circle cx="518.30" cy="300.40" r="6.8" fill="#fff" stroke="#C84D2F" stroke-width="2.8"/>
<circle cx="532.20" cy="281.53" r="6.8" fill="#fff" stroke="#C84D2F" stroke-width="2.8"/>
<circle cx="546.10" cy="263.82" r="6.8" fill="#fff" stroke="#C84D2F" stroke-width="2.8"/>
<circle cx="560.00" cy="247.81" r="6.8" fill="#fff" stroke="#C84D2F" stroke-width="2.8"/>
<circle cx="573.90" cy="234.00" r="6.8" fill="#fff" stroke="#C84D2F" stroke-width="2.8"/>
<circle cx="587.80" cy="222.79" r="6.8" fill="#fff" stroke="#C84D2F" stroke-width="2.8"/>
<circle cx="601.70" cy="214.53" r="6.8" fill="#fff" stroke="#C84D2F" stroke-width="2.8"/>
<circle cx="615.60" cy="209.47" r="6.8" fill="#fff" stroke="#C84D2F" stroke-width="2.8"/>
<circle cx="629.50" cy="207.77" r="6.8" fill="#fff" stroke="#C84D2F" stroke-width="2.8"/>
<polyline points="129.10,322.35 143.00,339.97 156.90,358.84 170.80,376.55 184.70,392.55 198.60,406.37 212.50,417.58 226.40,425.83 240.30,430.89 254.20,432.59 268.10,430.89 282.00,425.83 295.90,417.58 309.80,406.37 323.70,392.55 337.60,376.55 351.50,358.84 365.40,339.97 379.30,320.50 393.20,301.03 407.10,282.16 421.00,264.45 434.90,248.45 448.80,234.63 462.70,223.42 476.60,215.17 490.50,210.11 504.40,208.41 518.30,210.11 532.20,215.17 546.10,223.42 560.00,234.63 573.90,248.45 587.80,264.45 601.70,282.16 615.60,301.03 629.50,322.35" fill="none" stroke="#2254A6" stroke-width="2.7"/>
<circle cx="129.10" cy="322.35" r="6.8" fill="#fff" stroke="#2254A6" stroke-width="2.8"/>
<circle cx="143.00" cy="339.97" r="6.8" fill="#fff" stroke="#2254A6" stroke-width="2.8"/>
<circle cx="156.90" cy="358.84" r="6.8" fill="#fff" stroke="#2254A6" stroke-width="2.8"/>
<circle cx="170.80" cy="376.55" r="6.8" fill="#fff" stroke="#2254A6" stroke-width="2.8"/>
<circle cx="184.70" cy="392.55" r="6.8" fill="#fff" stroke="#2254A6" stroke-width="2.8"/>
<circle cx="198.60" cy="406.37" r="6.8" fill="#fff" stroke="#2254A6" stroke-width="2.8"/>
<circle cx="212.50" cy="417.58" r="6.8" fill="#fff" stroke="#2254A6" stroke-width="2.8"/>
<circle cx="226.40" cy="425.83" r="6.8" fill="#fff" stroke="#2254A6" stroke-width="2.8"/>
<circle cx="240.30" cy="430.89" r="6.8" fill="#fff" stroke="#2254A6" stroke-width="2.8"/>
<circle cx="254.20" cy="432.59" r="6.8" fill="#fff" stroke="#2254A6" stroke-width="2.8"/>
<circle cx="268.10" cy="430.89" r="6.8" fill="#fff" stroke="#2254A6" stroke-width="2.8"/>
<circle cx="282.00" cy="425.83" r="6.8" fill="#fff" stroke="#2254A6" stroke-width="2.8"/>
<circle cx="295.90" cy="417.58" r="6.8" fill="#fff" stroke="#2254A6" stroke-width="2.8"/>
<circle cx="309.80" cy="406.37" r="6.8" fill="#fff" stroke="#2254A6" stroke-width="2.8"/>
<circle cx="323.70" cy="392.55" r="6.8" fill="#fff" stroke="#2254A6" stroke-width="2.8"/>
<circle cx="337.60" cy="376.55" r="6.8" fill="#fff" stroke="#2254A6" stroke-width="2.8"/>
<circle cx="351.50" cy="358.84" r="6.8" fill="#fff" stroke="#2254A6" stroke-width="2.8"/>
<circle cx="365.40" cy="339.97" r="6.8" fill="#fff" stroke="#2254A6" stroke-width="2.8"/>
<circle cx="379.30" cy="320.50" r="6.8" fill="#fff" stroke="#2254A6" stroke-width="2.8"/>
<circle cx="393.20" cy="301.03" r="6.8" fill="#fff" stroke="#2254A6" stroke-width="2.8"/>
<circle cx="407.10" cy="282.16" r="6.8" fill="#fff" stroke="#2254A6" stroke-width="2.8"/>
<circle cx="421.00" cy="264.45" r="6.8" fill="#fff" stroke="#2254A6" stroke-width="2.8"/>
<circle cx="434.90" cy="248.45" r="6.8" fill="#fff" stroke="#2254A6" stroke-width="2.8"/>
<circle cx="448.80" cy="234.63" r="6.8" fill="#fff" stroke="#2254A6" stroke-width="2.8"/>
<circle cx="462.70" cy="223.42" r="6.8" fill="#fff" stroke="#2254A6" stroke-width="2.8"/>
<circle cx="476.60" cy="215.17" r="6.8" fill="#fff" stroke="#2254A6" stroke-width="2.8"/>
<circle cx="490.50" cy="210.11" r="6.8" fill="#fff" stroke="#2254A6" stroke-width="2.8"/>
<circle cx="504.40" cy="208.41" r="6.8" fill="#fff" stroke="#2254A6" stroke-width="2.8"/>
<circle cx="518.30" cy="210.11" r="6.8" fill="#fff" stroke="#2254A6" stroke-width="2.8"/>
<circle cx="532.20" cy="215.17" r="6.8" fill="#fff" stroke="#2254A6" stroke-width="2.8"/>
<circle cx="546.10" cy="223.42" r="6.8" fill="#fff" stroke="#2254A6" stroke-width="2.8"/>
<circle cx="560.00" cy="234.63" r="6.8" fill="#fff" stroke="#2254A6" stroke-width="2.8"/>
<circle cx="573.90" cy="248.45" r="6.8" fill="#fff" stroke="#2254A6" stroke-width="2.8"/>
<circle cx="587.80" cy="264.45" r="6.8" fill="#fff" stroke="#2254A6" stroke-width="2.8"/>
<circle cx="601.70" cy="282.16" r="6.8" fill="#fff" stroke="#2254A6" stroke-width="2.8"/>
<circle cx="615.60" cy="301.03" r="6.8" fill="#fff" stroke="#2254A6" stroke-width="2.8"/>
<circle cx="629.50" cy="322.35" r="6.8" fill="#fff" stroke="#2254A6" stroke-width="2.8"/>
<line x1="531.8" y1="359.3" x2="580.4" y2="359.3" stroke="#6A2F8E" stroke-width="2.7" />
<rect x="549.50" y="352.60" width="13.4" height="13.4" fill="#fff" stroke="#6A2F8E" stroke-width="2.6"/>
<text x="583.9" y="367.3" font-size="22.2" fill="#000" >Abs</text>
<line x1="531.8" y1="391.75" x2="580.4" y2="391.75" stroke="#C84D2F" stroke-width="2.7" />
<circle cx="556.2" cy="391.75" r="6.8" fill="#fff" stroke="#C84D2F" stroke-width="2.8"/>
<text x="583.9" y="399.5" font-size="22.2" fill="#000" >Real</text>
<line x1="531.8" y1="424.2" x2="580.4" y2="424.2" stroke="#2254A6" stroke-width="2.7" />
<circle cx="556.2" cy="424.20" r="6.8" fill="#fff" stroke="#2254A6" stroke-width="2.8"/>
<text x="583.9" y="431.7" font-size="22.2" fill="#000" >Imag</text>
<path d="M115.20,457.4v-5.6M115.20,182.1v5.6M129.10,457.4v-10.2M129.10,182.1v10.2M143.00,457.4v-5.6M143.00,182.1v5.6M156.90,457.4v-5.6M156.90,182.1v5.6M170.80,457.4v-5.6M170.80,182.1v5.6M184.70,457.4v-5.6M184.70,182.1v5.6M198.60,457.4v-10.2M198.60,182.1v10.2M212.50,457.4v-5.6M212.50,182.1v5.6M226.40,457.4v-5.6M226.40,182.1v5.6M240.30,457.4v-5.6M240.30,182.1v5.6M254.20,457.4v-5.6M254.20,182.1v5.6M268.10,457.4v-10.2M268.10,182.1v10.2M282.00,457.4v-5.6M282.00,182.1v5.6M295.90,457.4v-5.6M295.90,182.1v5.6M309.80,457.4v-5.6M309.80,182.1v5.6M323.70,457.4v-5.6M323.70,182.1v5.6M337.60,457.4v-10.2M337.60,182.1v10.2M351.50,457.4v-5.6M351.50,182.1v5.6M365.40,457.4v-5.6M365.40,182.1v5.6M379.30,457.4v-5.6M379.30,182.1v5.6M393.20,457.4v-5.6M393.20,182.1v5.6M407.10,457.4v-10.2M407.10,182.1v10.2M421.00,457.4v-5.6M421.00,182.1v5.6M434.90,457.4v-5.6M434.90,182.1v5.6M448.80,457.4v-5.6M448.80,182.1v5.6M462.70,457.4v-5.6M462.70,182.1v5.6M476.60,457.4v-10.2M476.60,182.1v10.2M490.50,457.4v-5.6M490.50,182.1v5.6M504.40,457.4v-5.6M504.40,182.1v5.6M518.30,457.4v-5.6M518.30,182.1v5.6M532.20,457.4v-5.6M532.20,182.1v5.6M546.10,457.4v-10.2M546.10,182.1v10.2M560.00,457.4v-5.6M560.00,182.1v5.6M573.90,457.4v-5.6M573.90,182.1v5.6M587.80,457.4v-5.6M587.80,182.1v5.6M601.70,457.4v-5.6M601.70,182.1v5.6M615.60,457.4v-10.2M615.60,182.1v10.2M629.50,457.4v-5.6M629.50,182.1v5.6M643.40,457.4v-5.6M643.40,182.1v5.6M103.5,447.40h5.6M654.2,447.40h-5.6M103.5,436.82h5.6M654.2,436.82h-5.6M103.5,426.25h10.2M654.2,426.25h-10.2M103.5,415.68h5.6M654.2,415.68h-5.6M103.5,405.10h5.6M654.2,405.10h-5.6M103.5,394.52h5.6M654.2,394.52h-5.6M103.5,383.95h5.6M654.2,383.95h-5.6M103.5,373.38h10.2M654.2,373.38h-10.2M103.5,362.80h5.6M654.2,362.80h-5.6M103.5,352.23h5.6M654.2,352.23h-5.6M103.5,341.65h5.6M654.2,341.65h-5.6M103.5,331.07h5.6M654.2,331.07h-5.6M103.5,320.50h10.2M654.2,320.50h-10.2M103.5,309.93h5.6M654.2,309.93h-5.6M103.5,299.35h5.6M654.2,299.35h-5.6M103.5,288.77h5.6M654.2,288.77h-5.6M103.5,278.20h5.6M654.2,278.20h-5.6M103.5,267.62h10.2M654.2,267.62h-10.2M103.5,257.05h5.6M654.2,257.05h-5.6M103.5,246.48h5.6M654.2,246.48h-5.6M103.5,235.90h5.6M654.2,235.90h-5.6M103.5,225.32h5.6M654.2,225.32h-5.6M103.5,214.75h10.2M654.2,214.75h-10.2M103.5,204.18h5.6M654.2,204.18h-5.6M103.5,193.60h5.6M654.2,193.60h-5.6" stroke="#000" stroke-width="1.9" fill="none"/>
<rect x="103.5" y="182.1" width="550.70" height="275.30" fill="none" stroke="#000" stroke-width="2.6"/>
<text x="129.1" y="485.4" font-size="23.1" text-anchor="middle" textLength="14" lengthAdjust="spacingAndGlyphs">0</text>
<text x="198.6" y="485.4" font-size="23.1" text-anchor="middle" textLength="27.99" lengthAdjust="spacingAndGlyphs">50</text>
<text x="268.1" y="485.4" font-size="23.1" text-anchor="middle" textLength="41.99" lengthAdjust="spacingAndGlyphs">100</text>
<text x="337.6" y="485.4" font-size="23.1" text-anchor="middle" textLength="41.99" lengthAdjust="spacingAndGlyphs">150</text>
<text x="407.1" y="485.4" font-size="23.1" text-anchor="middle" textLength="41.99" lengthAdjust="spacingAndGlyphs">200</text>
<text x="476.6" y="485.4" font-size="23.1" text-anchor="middle" textLength="41.99" lengthAdjust="spacingAndGlyphs">250</text>
<text x="546.1" y="485.4" font-size="23.1" text-anchor="middle" textLength="41.99" lengthAdjust="spacingAndGlyphs">300</text>
<text x="615.6" y="485.4" font-size="23.1" text-anchor="middle" textLength="41.99" lengthAdjust="spacingAndGlyphs">350</text>
<text x="93.4" y="434.15" font-size="23.1" text-anchor="end" textLength="46.43" lengthAdjust="spacingAndGlyphs">−20</text>
<text x="93.4" y="381.27" font-size="23.1" text-anchor="end" textLength="46.43" lengthAdjust="spacingAndGlyphs">−10</text>
<text x="93.4" y="328.4" font-size="23.1" text-anchor="end" textLength="14" lengthAdjust="spacingAndGlyphs">0</text>
<text x="93.4" y="275.52" font-size="23.1" text-anchor="end" textLength="27.99" lengthAdjust="spacingAndGlyphs">10</text>
<text x="93.4" y="222.65" font-size="23.1" text-anchor="end" textLength="27.99" lengthAdjust="spacingAndGlyphs">20</text>
<text x="292.8" y="515.2" font-size="25.6" fill="#281819" >Signal phase</text>
<ellipse cx="455.80" cy="509.06" rx="6.75" ry="5.69" fill="none" stroke="#281819" stroke-width="1.70"/>
<line x1="455.80" y1="497.80" x2="455.80" y2="519.90" stroke="#281819" stroke-width="1.70"/>
<text x="464.4" y="515.4" font-size="14" fill="#281819" >s</text>
<text transform="translate(35.7,429.5) rotate(-90)" font-size="25.45" fill="#000">FFT Amplitude (a.u.)</text>
<rect x="128.40" y="645.19" width="50.06" height="11.21" fill="#8AA9D3" stroke="#2457A7" stroke-width="2.6"/>
<rect x="178.46" y="627.54" width="50.06" height="28.86" fill="#8AA9D3" stroke="#2457A7" stroke-width="2.6"/>
<rect x="228.52" y="610.17" width="50.06" height="46.23" fill="#8AA9D3" stroke="#2457A7" stroke-width="2.6"/>
<rect x="278.58" y="594.06" width="50.06" height="62.34" fill="#8AA9D3" stroke="#2457A7" stroke-width="2.6"/>
<rect x="328.64" y="556.09" width="50.06" height="100.31" fill="#8AA9D3" stroke="#2457A7" stroke-width="2.6"/>
<rect x="378.70" y="556.09" width="50.06" height="100.31" fill="#8AA9D3" stroke="#2457A7" stroke-width="2.6"/>
<rect x="428.76" y="583.13" width="50.06" height="73.27" fill="#8AA9D3" stroke="#2457A7" stroke-width="2.6"/>
<rect x="478.82" y="608.63" width="50.06" height="47.77" fill="#8AA9D3" stroke="#2457A7" stroke-width="2.6"/>
<rect x="528.88" y="631.04" width="50.06" height="25.36" fill="#8AA9D3" stroke="#2457A7" stroke-width="2.6"/>
<rect x="578.94" y="649.25" width="50.06" height="7.15" fill="#8AA9D3" stroke="#2457A7" stroke-width="2.6"/>
<polyline points="128.40,651.98 130.90,651.70 133.41,651.40 135.91,651.08 138.41,650.75 140.91,650.41 143.42,650.04 145.92,649.66 148.42,649.26 150.93,648.84 153.43,648.40 155.93,647.94 158.44,647.46 160.94,646.95 163.44,646.43 165.94,645.88 168.45,645.31 170.95,644.72 173.45,644.10 175.96,643.45 178.46,642.79 180.96,642.09 183.47,641.37 185.97,640.63 188.47,639.86 190.97,639.06 193.48,638.23 195.98,637.37 198.48,636.49 200.99,635.58 203.49,634.65 205.99,633.68 208.50,632.69 211.00,631.66 213.50,630.61 216.00,629.54 218.51,628.43 221.01,627.30 223.51,626.14 226.02,624.95 228.52,623.74 231.02,622.51 233.53,621.24 236.03,619.96 238.53,618.65 241.03,617.31 243.54,615.96 246.04,614.58 248.54,613.19 251.05,611.78 253.55,610.35 256.05,608.90 258.56,607.44 261.06,605.96 263.56,604.47 266.06,602.98 268.57,601.47 271.07,599.96 273.57,598.44 276.08,596.91 278.58,595.39 281.08,593.86 283.59,592.34 286.09,590.82 288.59,589.31 291.09,587.80 293.60,586.31 296.10,584.82 298.60,583.36 301.11,581.90 303.61,580.47 306.11,579.06 308.62,577.67 311.12,576.30 313.62,574.96 316.12,573.66 318.63,572.38 321.13,571.14 323.63,569.93 326.14,568.76 328.64,567.63 331.14,566.54 333.65,565.49 336.15,564.49 338.65,563.54 341.15,562.64 343.66,561.78 346.16,560.98 348.66,560.23 351.17,559.54 353.67,558.90 356.17,558.32 358.68,557.80 361.18,557.34 363.68,556.93 366.19,556.59 368.69,556.31 371.19,556.09 373.69,555.93 376.20,555.84 378.70,555.81 381.20,555.84 383.71,555.93 386.21,556.09 388.71,556.31 391.21,556.59 393.72,556.93 396.22,557.34 398.72,557.80 401.23,558.32 403.73,558.90 406.23,559.54 408.74,560.23 411.24,560.98 413.74,561.78 416.24,562.64 418.75,563.54 421.25,564.49 423.75,565.49 426.26,566.54 428.76,567.63 431.26,568.76 433.77,569.93 436.27,571.14 438.77,572.38 441.27,573.66 443.78,574.96 446.28,576.30 448.78,577.67 451.29,579.06 453.79,580.47 456.29,581.90 458.80,583.36 461.30,584.82 463.80,586.31 466.31,587.80 468.81,589.31 471.31,590.82 473.81,592.34 476.32,593.86 478.82,595.39 481.32,596.91 483.83,598.44 486.33,599.96 488.83,601.47 491.33,602.98 493.84,604.47 496.34,605.96 498.84,607.44 501.35,608.90 503.85,610.35 506.35,611.78 508.86,613.19 511.36,614.58 513.86,615.96 516.37,617.31 518.87,618.65 521.37,619.96 523.87,621.24 526.38,622.51 528.88,623.74 531.38,624.95 533.89,626.14 536.39,627.30 538.89,628.43 541.39,629.54 543.90,630.61 546.40,631.66 548.90,632.69 551.41,633.68 553.91,634.65 556.41,635.58 558.92,636.49 561.42,637.37 563.92,638.23 566.42,639.06 568.93,639.86 571.43,640.63 573.93,641.37 576.44,642.09 578.94,642.79 581.44,643.45 583.95,644.10 586.45,644.72 588.95,645.31 591.46,645.88 593.96,646.43 596.46,646.95 598.96,647.46 601.47,647.94 603.97,648.40 606.47,648.84 608.98,649.26 611.48,649.66 613.98,650.04 616.49,650.41 618.99,650.75 621.49,651.08 623.99,651.40 626.50,651.70 629.00,651.98" fill="none" stroke="#BE1E2D" stroke-width="3"/>
<path d="M103.37,656.4v-5.6M103.37,544.3v5.6M128.40,656.4v-10.2M128.40,544.3v10.2M153.43,656.4v-5.6M153.43,544.3v5.6M178.46,656.4v-5.6M178.46,544.3v5.6M203.49,656.4v-5.6M203.49,544.3v5.6M228.52,656.4v-5.6M228.52,544.3v5.6M253.55,656.4v-10.2M253.55,544.3v10.2M278.58,656.4v-5.6M278.58,544.3v5.6M303.61,656.4v-5.6M303.61,544.3v5.6M328.64,656.4v-5.6M328.64,544.3v5.6M353.67,656.4v-5.6M353.67,544.3v5.6M378.70,656.4v-10.2M378.70,544.3v10.2M403.73,656.4v-5.6M403.73,544.3v5.6M428.76,656.4v-5.6M428.76,544.3v5.6M453.79,656.4v-5.6M453.79,544.3v5.6M478.82,656.4v-5.6M478.82,544.3v5.6M503.85,656.4v-10.2M503.85,544.3v10.2M528.88,656.4v-5.6M528.88,544.3v5.6M553.91,656.4v-5.6M553.91,544.3v5.6M578.94,656.4v-5.6M578.94,544.3v5.6M603.97,656.4v-5.6M603.97,544.3v5.6M629.00,656.4v-10.2M629.00,544.3v10.2M654.03,656.4v-5.6M654.03,544.3v5.6M103.5,656.40h10.2M654.0,656.40h-10.2M103.5,642.39h5.6M654.0,642.39h-5.6M103.5,628.38h5.6M654.0,628.38h-5.6M103.5,614.37h5.6M654.0,614.37h-5.6M103.5,600.36h5.6M654.0,600.36h-5.6M103.5,586.35h10.2M654.0,586.35h-10.2M103.5,572.34h5.6M654.0,572.34h-5.6M103.5,558.33h5.6M654.0,558.33h-5.6M103.5,544.32h5.6M654.0,544.32h-5.6" stroke="#000" stroke-width="1.9" fill="none"/>
<rect x="103.5" y="544.3" width="550.50" height="112.10" fill="none" stroke="#000" stroke-width="2.6"/>
<text x="128.4" y="683.4" font-size="23.1" text-anchor="middle" textLength="53.43" lengthAdjust="spacingAndGlyphs">−1.0</text>
<text x="253.55" y="683.4" font-size="23.1" text-anchor="middle" textLength="53.43" lengthAdjust="spacingAndGlyphs">−0.5</text>
<text x="378.7" y="683.4" font-size="23.1" text-anchor="middle" textLength="34.99" lengthAdjust="spacingAndGlyphs">0.0</text>
<text x="503.85" y="683.4" font-size="23.1" text-anchor="middle" textLength="34.99" lengthAdjust="spacingAndGlyphs">0.5</text>
<text x="629" y="683.4" font-size="23.1" text-anchor="middle" textLength="34.99" lengthAdjust="spacingAndGlyphs">1.0</text>
<text x="93.4" y="664.3" font-size="23.1" text-anchor="end" textLength="14" lengthAdjust="spacingAndGlyphs">0</text>
<text x="93.4" y="594.25" font-size="23.1" text-anchor="end" textLength="27.99" lengthAdjust="spacingAndGlyphs">50</text>
<line x1="385" y1="595.8" x2="474" y2="595.8" stroke="#281819" stroke-width="2" />
<polygon points="379.1,595.8 389.3,592.2 387.57,595.8 389.3,599.4" fill="#281819"/>
<polygon points="479.5,595.8 469.3,599.4 471.03,595.8 469.3,592.2" fill="#281819"/>
<text x="415.5" y="614.1" font-size="20.4" fill="#281819" >σ</text>
<ellipse cx="434.35" cy="610.90" rx="3.35" ry="2.80" fill="none" stroke="#281819" stroke-width="1.20"/>
<line x1="434.35" y1="606.30" x2="434.35" y2="616.80" stroke="#281819" stroke-width="1.20"/>
<text x="131.8" y="581.4" font-size="22.8" fill="#281819" >σ</text>
<ellipse cx="151.10" cy="577.72" rx="3.75" ry="3.13" fill="none" stroke="#281819" stroke-width="1.30"/>
<line x1="151.10" y1="572.80" x2="151.10" y2="583.80" stroke="#281819" stroke-width="1.30"/>
<text x="160" y="581.4" font-size="24" fill="#281819" >≈</text>
<text x="179.5" y="581.4" font-size="22.8" fill="#281819" >0.4°</text>
<text x="240.1" y="710.5" font-size="25.25" fill="#000" >Phase error</text>
<text x="378.2" y="710.5" font-size="25" fill="#281819" >Δ</text>
<ellipse cx="404.60" cy="704.52" rx="6.40" ry="5.38" fill="none" stroke="#281819" stroke-width="1.80"/>
<line x1="404.60" y1="694.20" x2="404.60" y2="715.60" stroke="#281819" stroke-width="1.80"/>
<text x="419.8" y="710.5" font-size="25.5" fill="#281819" >(degree)</text>
<text transform="translate(35.9,637.1) rotate(-90)" font-size="25.8" fill="#000">Count</text>
</svg>
</body></html>
